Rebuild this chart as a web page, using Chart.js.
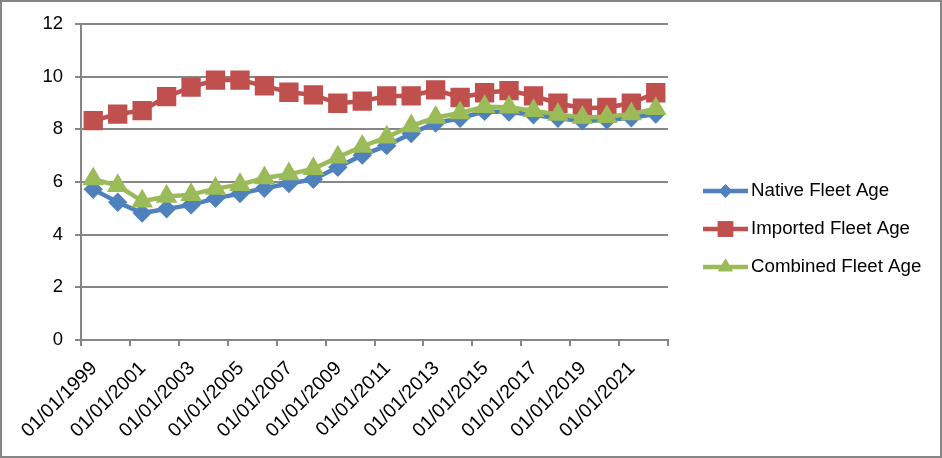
<!DOCTYPE html>
<html>
<head>
<meta charset="utf-8">
<script src="https://cdn.jsdelivr.net/npm/chart.js@4.4.1/dist/chart.umd.min.js"></script>
<style>
  html, body { margin: 0; padding: 0; background: #fff; }
</style>
</head>
<body>
<canvas id="myChart" width="942" height="458"></canvas>
<script>
// fleet age by year (one point per year)
var years = [1999, 2000, 2001, 2002, 2003, 2004, 2005, 2006, 2007, 2008, 2009, 2010,
             2011, 2012, 2013, 2014, 2015, 2016, 2017, 2018, 2019, 2020, 2021, 2022];
var nativeAge = [5.72, 5.23, 4.82, 4.98, 5.13, 5.38, 5.56, 5.76, 5.94, 6.10, 6.56, 7.02,
                 7.38, 7.84, 8.24, 8.42, 8.68, 8.66, 8.55, 8.42, 8.32, 8.35, 8.44, 8.58];
var importedAge = [8.33, 8.58, 8.71, 9.24, 9.60, 9.87, 9.87, 9.65, 9.41, 9.31, 8.99, 9.07,
                   9.27, 9.27, 9.50, 9.21, 9.39, 9.47, 9.27, 8.99, 8.80, 8.83, 8.99, 9.39];
var combinedAge = [6.11, 5.86, 5.27, 5.45, 5.52, 5.75, 5.90, 6.15, 6.30, 6.50, 6.94, 7.35,
                   7.70, 8.13, 8.45, 8.62, 8.86, 8.84, 8.71, 8.56, 8.45, 8.48, 8.58, 8.78];
var seriesNames = ["Native Fleet Age", "Imported Fleet Age", "Combined Fleet Age"];
var xTickYears = [1999, 2001, 2003, 2005, 2007, 2009, 2011, 2013, 2015, 2017, 2019, 2021];
var xTickLabels = ["01/01/1999", "01/01/2001", "01/01/2003", "01/01/2005", "01/01/2007", "01/01/2009",
                   "01/01/2011", "01/01/2013", "01/01/2015", "01/01/2017", "01/01/2019", "01/01/2021"];
var yTicks = [0, 2, 4, 6, 8, 10, 12];

var GRAY = '#868686';

function points(vals) {
    // each yearly value sits in the middle of its year
    return years.map(function(yr, i) { return { x: yr + 0.5, y: vals[i] }; });
}

Chart.defaults.font.family = "'Liberation Sans', Arial, sans-serif";
Chart.defaults.font.size = 18;
Chart.defaults.color = '#000';

var frame = {
    id: 'frame',
    beforeDraw: function(chart) {
        var c = chart.ctx;
        c.save();
        c.fillStyle = '#fff';
        c.fillRect(0, 0, chart.width, chart.height);
        c.restore();
    },
    afterDraw: function(chart) {
        var c = chart.ctx;
        c.save();
        c.strokeStyle = GRAY;
        c.lineWidth = 2;
        c.strokeRect(1, 1, chart.width - 2, chart.height - 2);
        c.restore();
    }
};

// excel style legend: line with marker in the middle
var sideLegend = {
    id: 'sideLegend',
    afterDraw: function(chart) {
        var c = chart.ctx;
        c.save();
        chart.data.datasets.forEach(function(ds, i) {
            var y = 191 + i * 38;
            c.strokeStyle = ds.borderColor;
            c.lineWidth = ds.borderWidth;
            c.beginPath();
            c.moveTo(703, y);
            c.lineTo(748, y);
            c.stroke();
            c.fillStyle = ds.pointBackgroundColor;
            c.strokeStyle = ds.pointBorderColor;
            c.lineWidth = 1;
            Chart.helpers.drawPoint(c, { pointStyle: ds.pointStyle, radius: ds.pointRadius, rotation: 0, borderWidth: 1 }, 725.5, y);
            c.fillStyle = '#000';
            c.font = "18.7px 'Liberation Sans', Arial, sans-serif";
            c.textBaseline = 'middle';
            c.textAlign = 'left';
            c.fillText(ds.label, 751, y);
        });
        c.restore();
    }
};

var ctx = document.getElementById('myChart').getContext('2d');
var myLineChart = new Chart(ctx, {
    type: 'line',
    data: {
        datasets: [{
            label: seriesNames[0],
            data: points(nativeAge),
            borderColor: '#4F81BD',
            backgroundColor: '#4F81BD',
            pointBackgroundColor: '#4F81BD',
            pointBorderColor: '#4F81BD',
            borderWidth: 4.5,
            pointStyle: 'rectRot',
            pointRadius: 6.5,
            order: 3
        },
        {
            label: seriesNames[1],
            data: points(importedAge),
            borderColor: '#C0504D',
            backgroundColor: '#C0504D',
            pointBackgroundColor: '#C0504D',
            pointBorderColor: '#C0504D',
            borderWidth: 4.5,
            pointStyle: 'rect',
            pointRadius: 10.5,
            order: 2
        },
        {
            label: seriesNames[2],
            data: points(combinedAge),
            borderColor: '#9BBB59',
            backgroundColor: '#9BBB59',
            pointBackgroundColor: '#9BBB59',
            pointBorderColor: '#9BBB59',
            borderWidth: 4.5,
            pointStyle: 'triangle',
            pointRadius: 8,
            order: 1
        }]
    },
    options: {
        responsive: false,
        animation: false,
        layout: { padding: { top: 24, right: 274, left: 0, bottom: 0 } },
        plugins: {
            legend: { display: false },
            tooltip: { enabled: false }
        },
        elements: { line: { tension: 0 } },
        scales: {
            x: {
                type: 'linear',
                min: 1999,
                max: 2023,
                afterFit: function(scale) { scale.height = 118; },
                afterBuildTicks: function(scale) {
                    scale.ticks = xTickYears.concat([2023]).map(function(v) { return { value: v }; });
                },
                ticks: {
                    autoSkip: false,
                    minRotation: 45,
                    maxRotation: 45,
                    labelOffset: 13,
                    padding: 11,
                    font: { size: 19.5 },
                    callback: function(v) {
                        var i = xTickYears.indexOf(v);
                        return i >= 0 ? xTickLabels[i] : '';
                    }
                },
                grid: { drawOnChartArea: false, drawTicks: true, tickLength: 6, color: GRAY, lineWidth: 2 },
                border: { display: true, color: GRAY, width: 2 }
            },
            y: {
                min: 0,
                max: 12,
                afterFit: function(scale) { scale.width = 81; },
                afterBuildTicks: function(scale) {
                    scale.ticks = yTicks.map(function(v) { return { value: v }; });
                },
                ticks: { padding: 12, font: { size: 18.5 } },
                grid: { color: GRAY, lineWidth: 2, tickLength: 6 },
                border: { display: true, color: GRAY, width: 2 }
            }
        }
    },
    plugins: [frame, sideLegend]
});
</script>
</body>
</html>
